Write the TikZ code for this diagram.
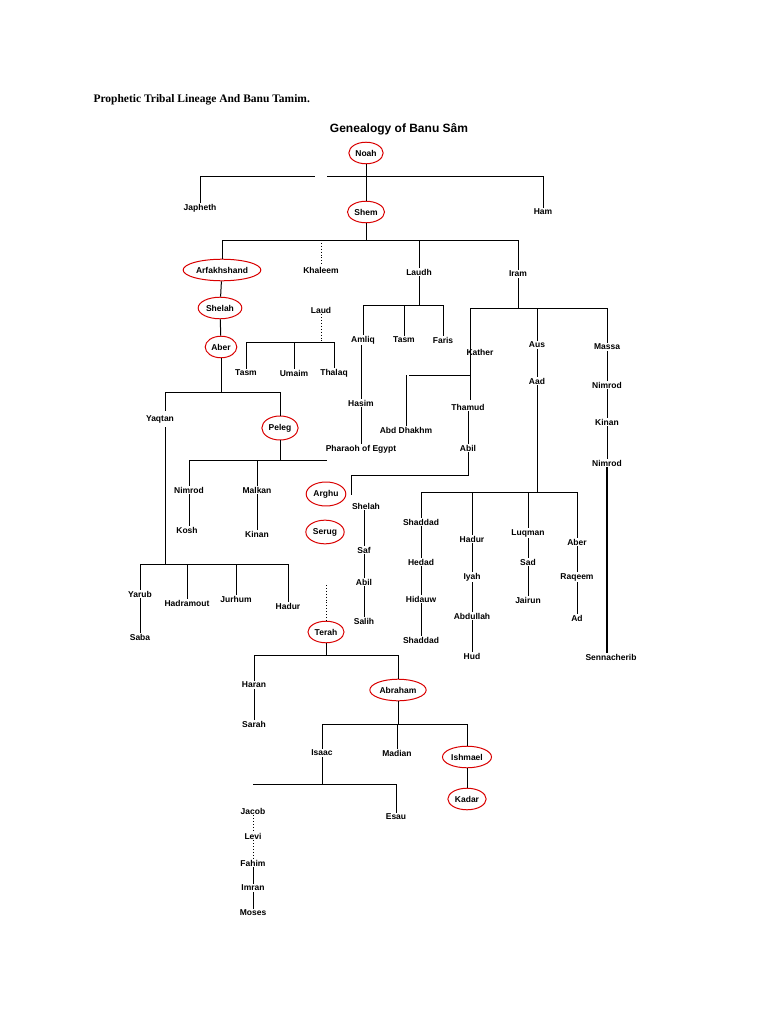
\documentclass[tikz,border=0pt]{standalone}
\usepackage{fontspec}
\setmainfont{Liberation Serif}
\setsansfont{Liberation Sans}
\usetikzlibrary{shapes.geometric}
\begin{document}
\begin{tikzpicture}[x=1pt,y=-1pt,
  nm/.style={font=\sffamily\bfseries\fontsize{8.5}{9}\selectfont, inner sep=1pt},
  rc/.style={nm, ellipse, draw=red!85!black, line width=1pt, inner xsep=1.5pt, inner ysep=4.5pt},
  ln/.style={line width=1pt},
  dl/.style={line width=0.9pt, dotted}]
\useasboundingbox (0,0) rectangle (768,1024);
\node[font=\bfseries\fontsize{11.5}{13}\selectfont, anchor=west] (title) at (90,100) {Prophetic Tribal Lineage And Banu Tamim.};
\node[font=\sffamily\bfseries\fontsize{12}{14}\selectfont] (gtitle) at (399,129) {Genealogy of Banu Sâm};
% nodes
\node[rc] (noah) at (366,153) {Noah};
\node[nm] (japheth) at (200,208) {Japheth};
\node[rc] (shem) at (366,212) {Shem};
\node[nm] (ham) at (543,212) {Ham};
\node[rc] (arf) at (222,270) {Arfakhshand};
\node[nm] (khaleem) at (321,270) {Khaleem};
\node[nm] (laudh) at (419,272) {Laudh};
\node[nm] (iram) at (518,274) {Iram};
\node[rc] (shelah) at (220,308) {Shelah};
\node[nm] (laud) at (321,310) {Laud};
\node[rc] (aber) at (221,347) {Aber};
\node[nm] (tasmA) at (246,373) {Tasm};
\node[nm] (umaim) at (294,373) {Umaim};
\node[nm] (thalaq) at (334,373) {Thalaq};
\node[nm] (amliq) at (363,340) {Amliq};
\node[nm] (tasmB) at (404,340) {Tasm};
\node[nm] (faris) at (443,340) {Faris};
\node[nm] (hasim) at (361,403) {Hasim};
\node[nm] (pharaoh) at (361,449) {Pharaoh of Egypt};
\node[nm] (kather) at (480,352) {Kather};
\node[nm] (abdd) at (406,430) {Abd Dhakhm};
\node[nm] (thamud) at (468,407) {Thamud};
\node[nm] (abilA) at (468,448) {Abil};
\node[nm] (aus) at (537,345) {Aus};
\node[nm] (aad) at (537,381) {Aad};
\node[nm] (massa) at (607,347) {Massa};
\node[nm] (nimA) at (607,385) {Nimrod};
\node[nm] (kinanA) at (607,422) {Kinan};
\node[nm] (nimB) at (607,463) {Nimrod};
\node[nm] (senn) at (611,657) {Sennacherib};
\node[nm] (yaqtan) at (160,419) {Yaqtan};
\node[rc] (peleg) at (280,428) {Peleg};
\node[nm] (nimC) at (189,490) {Nimrod};
\node[nm] (malkan) at (257,490) {Malkan};
\node[nm] (kosh) at (187,530) {Kosh};
\node[nm] (kinanB) at (257,534) {Kinan};
\node[rc] (arghu) at (326,494) {Arghu};
\node[rc] (serug) at (325,532) {Serug};
\node[nm] (shelahB) at (366,506) {Shelah};
\node[nm] (saf) at (364,550) {Saf};
\node[nm] (abilB) at (364,582) {Abil};
\node[nm] (salih) at (364,621) {Salih};
\node[nm] (shadA) at (421,522) {Shaddad};
\node[nm] (hedad) at (421,562) {Hedad};
\node[nm] (hidauw) at (421,599) {Hidauw};
\node[nm] (shadB) at (421,640) {Shaddad};
\node[nm] (hadurA) at (472,539) {Hadur};
\node[nm] (iyah) at (472,577) {Iyah};
\node[nm] (abdullah) at (472,616) {Abdullah};
\node[nm] (hud) at (472,656) {Hud};
\node[nm] (luqman) at (528,533) {Luqman};
\node[nm] (sad) at (528,562) {Sad};
\node[nm] (jairun) at (528,600) {Jairun};
\node[nm] (aberB) at (577,542) {Aber};
\node[nm] (raqeem) at (577,577) {Raqeem};
\node[nm] (ad) at (577,618) {Ad};
\node[nm] (yarub) at (140,594) {Yarub};
\node[nm] (saba) at (140,637) {Saba};
\node[nm] (hadram) at (187,603) {Hadramout};
\node[nm] (jurhum) at (236,599) {Jurhum};
\node[nm] (hadurB) at (288,606) {Hadur};
\node[rc] (terah) at (326,632) {Terah};
\node[nm] (haran) at (254,685) {Haran};
\node[nm] (sarah) at (254,724) {Sarah};
\node[rc] (abraham) at (398,690) {Abraham};
\node[nm] (isaac) at (322,753) {Isaac};
\node[nm] (madian) at (397,753) {Madian};
\node[rc] (ishmael) at (467,757) {Ishmael};
\node[rc] (kadar) at (467,799) {Kadar};
\node[nm] (esau) at (396,817) {Esau};
\node[nm] (jacob) at (253,811) {Jacob};
\node[nm] (levi) at (253,836) {Levi};
\node[nm] (fahim) at (253,863) {Fahim};
\node[nm] (imran) at (253,888) {Imran};
\node[nm] (moses) at (253,913) {Moses};
% connectors
\draw[ln] (noah) -- (shem);
\draw[ln] (japheth.north) -- (japheth.north |- 0,177) -- (315,177);
\draw[ln] (327,177) -- (ham.north |- 0,177) -- (ham.north);
\draw[ln] (shem) -- (shem |- 0,240);
\draw[ln] (arf.north) -- (arf.north |- 0,240) -- (iram.north |- 0,240) -- (iram.north);
\draw[ln] (laudh.north |- 0,240) -- (laudh.north);
\draw[dl] (khaleem.north |- 0,240) -- (khaleem.north);
\draw[ln] (arf) -- (shelah);
\draw[ln] (shelah) -- (aber);
\draw[ln] (laudh.south) -- (laudh.south |- 0,305);
\draw[ln] (amliq.north) -- (amliq.north |- 0,305) -- (faris.north |- 0,305) -- (faris.north);
\draw[ln] (tasmB.north |- 0,305) -- (tasmB.north);
\draw[ln] (amliq.south -| hasim) -- (hasim.north);
\draw[ln] (hasim) -- (hasim |- pharaoh.north);
\draw[dl] (laud.south) -- (laud.south |- 0,342);
\draw[ln] (tasmA.north) -- (tasmA.north |- 0,342) -- (thalaq.north |- 0,342) -- (thalaq.north);
\draw[ln] (umaim.north |- 0,342) -- (umaim.north);
\draw[ln] (iram.south) -- (iram.south |- 0,308);
\draw[ln] (470,308) -- (massa.north |- 0,308) -- (massa.north);
\draw[ln] (470,308) -- (470,400);
\draw[ln] (aus.north |- 0,308) -- (aus.north);
\draw[ln] (aus) -- (aad);
\draw[ln] (409,375) -- (470,375);
\draw[ln] (abdd.north |- 0,375) -- (abdd.north);
\draw[ln] (thamud) -- (abilA);
\draw[ln] (abilA.south) -- (abilA.south |- 0,475) -- (351,475) -- (351,495);
\draw[ln] (shelahB.south -| saf) -- (saf); \draw[ln] (saf) -- (abilB); \draw[ln] (abilB) -- (salih);
\draw[ln] (aad.south) -- (aad.south |- 0,492);
\draw[ln] (shadA.north) -- (shadA.north |- 0,492) -- (aberB.north |- 0,492) -- (aberB.north);
\draw[ln] (hadurA.north |- 0,492) -- (hadurA.north);
\draw[ln] (luqman.north |- 0,492) -- (luqman.north);
\draw[ln] (shadA) -- (hedad); \draw[ln] (hedad) -- (hidauw); \draw[ln] (hidauw) -- (shadB);
\draw[ln] (hadurA) -- (iyah); \draw[ln] (iyah) -- (abdullah); \draw[ln] (abdullah) -- (hud);
\draw[ln] (luqman) -- (sad); \draw[ln] (sad) -- (jairun);
\draw[ln] (aberB) -- (raqeem); \draw[ln] (raqeem) -- (ad);
\draw[ln] (massa) -- (nimA); \draw[ln] (nimA) -- (kinanA); \draw[ln] (kinanA) -- (nimB);
\draw[line width=1.8pt] (nimB) -- (nimB |- senn.north);
\draw[ln] (aber) -- (aber |- 0,392);
\draw[ln] (165,392) -- (peleg.north |- 0,392) -- (peleg.north);
\draw[ln] (165,392) -- (165,411);
\draw[ln] (165,427) -- (165,564);
\draw[ln] (peleg.south) -- (peleg.south |- 0,460);
\draw[ln] (nimC.north) -- (nimC.north |- 0,460) -- (327,460);
\draw[ln] (malkan.north |- 0,460) -- (malkan.north);
\draw[ln] (nimC) -- (kosh.north -| nimC);
\draw[ln] (malkan) -- (kinanB);
\draw[ln] (yarub.north) -- (yarub.north |- 0,564) -- (hadurB.north |- 0,564) -- (hadurB.north);
\draw[ln] (hadram.north |- 0,564) -- (hadram.north);
\draw[ln] (jurhum.north |- 0,564) -- (jurhum.north);
\draw[ln] (yarub) -- (saba);
\draw[dl] (326,585) -- (terah.north);
\draw[ln] (terah) -- (terah |- 0,655);
\draw[ln] (haran.north) -- (haran.north |- 0,655) -- (abraham.north |- 0,655) -- (abraham.north);
\draw[ln] (haran) -- (sarah);
\draw[ln] (abraham) -- (abraham |- 0,724);
\draw[ln] (isaac.north) -- (isaac.north |- 0,724) -- (ishmael.north |- 0,724) -- (ishmael.north);
\draw[ln] (madian.north |- 0,724) -- (madian.north);
\draw[ln] (ishmael) -- (kadar);
\draw[ln] (isaac) -- (isaac |- 0,784);
\draw[ln] (253,784) -- (esau.north |- 0,784) -- (esau.north);
\draw[dl] (jacob) -- (levi);
\draw[dl] (levi) -- (fahim);
\draw[ln] (fahim) -- (imran); \draw[ln] (imran) -- (moses);
\end{tikzpicture}
\end{document}
